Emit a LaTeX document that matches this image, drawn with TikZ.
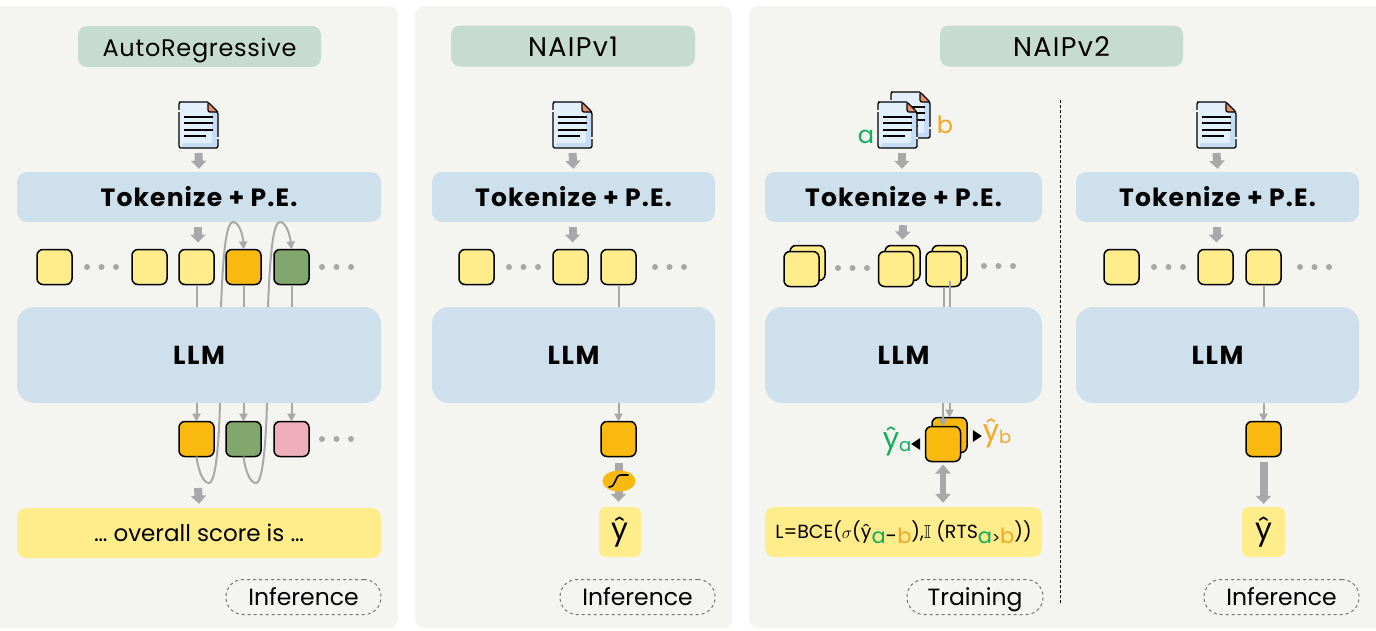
\documentclass[tikz,border=0pt]{standalone}
\usepackage{fontspec}
\usepackage{amssymb}
\usetikzlibrary{arrows.meta,shapes.geometric}
\setmainfont{Poppins}
\newfontfamily\spacedbold{Poppins}[LetterSpace=4.5,BoldFont={* Bold}]
\newfontfamily\llmfont{Poppins}[LetterSpace=6,BoldFont={* Bold}]
\newfontfamily\titlefont{Poppins}[LetterSpace=3]
\newfontfamily\naipfont{Poppins}[LetterSpace=5]
\definecolor{panelc}{HTML}{F4F5F0}
\definecolor{blueb}{HTML}{CDE0EC}
\definecolor{yellowb}{HTML}{FFEC8B}
\definecolor{orangeb}{HTML}{F9B90F}
\definecolor{greenb}{HTML}{82A76C}
\definecolor{pinkb}{HTML}{EFAEBC}
\definecolor{titleb}{HTML}{C6DCD3}
\definecolor{greent}{HTML}{12AD5A}
\definecolor{oranget}{HTML}{F5A623}
\definecolor{arrowg}{HTML}{A8A8A8}
\definecolor{docb}{HTML}{E3EFFB}
\definecolor{docs}{HTML}{C5DCF5}
\definecolor{docf}{HTML}{E8906A}
\newcommand{\fsz}[1]{\fontsize{#1}{#1}\selectfont}
\tikzset{
 panel/.style={fill=panelc,rounded corners=9,draw=none},
 title/.style={fill=titleb,rounded corners=9,inner sep=0,minimum height=41,font=\fsz{24}\titlefont,text height=19,text depth=0},
 naip/.style={title,font=\fsz{27}\naipfont,text height=20,text depth=0},
 tokz/.style={fill=blueb,rounded corners=10,inner sep=0,minimum height=50,font=\fsz{25}\spacedbold\bfseries},
 llmb/.style={fill=blueb,rounded corners=17,inner sep=0,minimum height=96,font=\fsz{26}\llmfont\bfseries},
 ybox/.style={fill=yellowb,rounded corners=9,inner sep=0,minimum height=50},
 tok/.style={draw=black,line width=1.5,rounded corners=6,inner sep=0,outer sep=0,minimum size=35},
 pill/.style={draw=black!55,dashed,line width=1.0,rounded corners=17,inner sep=0,minimum height=35,font=\fsz{23.5},text height=20,text depth=3},
 fat/.style={arrowg,line width=8,-{Triangle[width=15,length=8]}},
 dfat/.style={arrowg,line width=6.5,{Triangle[width=15,length=9]}-{Triangle[width=15,length=9]}},
 thin/.style={arrowg,line width=2},
 thina/.style={arrowg,line width=2,-{Triangle[width=8,length=8]}},
 dotg/.style={circle,fill=arrowg,inner sep=0,minimum size=6},
 blt/.style={fill=black,draw=none},
}
\newcommand{\docicon}[3]{%
 \begin{scope}[shift={(#2,#3)}]
  \fill[docb,rounded corners=2] (0,0)--(29,0)--(39,10)--(39,46)--(0,46)--cycle;
  \fill[docs,rounded corners=2] (33,10)--(39,10)--(39,46)--(3,46)--(3,41)--(33,41)--cycle;
  \fill[docf] (29,0)--(39,10)--(29,10)--cycle;
  \draw[black,line width=1.3,rounded corners=2] (29,0)--(2,0)--(0,0)--(0,46)--(39,46)--(39,10)--(29,0)--(29,10)--(39,10);
  \draw[black,line width=1.1] (5,15)--(34,15) (5,21)--(34,21) (5,28)--(34,28) (5,34)--(27,34);
  \draw[white,line width=1.5] (0,8)--(0,10) (39,35)--(39,37);
  \node[inner sep=0,outer sep=0,minimum width=39,minimum height=46] (#1) at (19.5,23) {};
 \end{scope}}
\newcommand{\threedots}[3]{\node[dotg] (#1a) at (#2,#3) {};\node[dotg] (#1b) at (#2+14.5,#3) {};\node[dotg] (#1c) at (#2+29,#3) {};}
\newcommand{\yhatbig}{ŷ}
\begin{document}
\begin{tikzpicture}[x=1pt,y=-1pt]
\useasboundingbox (0,0) rectangle (1376,630);
% panels
\fill[panel] (-10,6) rectangle (398,628);
\fill[panel] (415,6) rectangle (732,628);
\fill[panel] (749,6) rectangle (1386,628);
% ---------- Panel 1
\node[title,minimum width=243] (t1) at (199.5,46.5) {AutoRegressive};
\docicon{d1}{179}{102}
\node[tokz,minimum width=364] (k1) at (199,197) {Tokenize + P.E.};
\node[llmb,minimum width=364] (l1) at (199,355) {LLM};
\node[ybox,minimum width=364,font=\fsz{23}] (s1) at (199,533) {… overall score is …};
\node[pill,minimum width=155] (i1) at (303.5,597) {Inference};
\node[tok,fill=yellowb] (a1) at (54.5,267) {};
\node[tok,fill=yellowb] (a2) at (149.5,267) {};
\node[tok,fill=yellowb] (a3) at (196.5,267) {};
\node[tok,fill=orangeb] (a4) at (243.5,267) {};
\node[tok,fill=greenb] (a5) at (291.5,267) {};
\threedots{ad}{87}{267}
\threedots{ae}{322}{267}
\node[tok,fill=orangeb] (b3) at (196.5,439) {};
\node[tok,fill=greenb] (b4) at (243.5,439) {};
\node[tok,fill=pinkb] (b5) at (291.5,439) {};
\threedots{bd}{322}{439}
\coordinate (f1) at (198,488);
\draw[fat] ([yshift=-5]d1.south) -- ([yshift=3]k1.north);
\draw[fat] ([xshift=-1,yshift=-5]k1.south) -- ([xshift=1.5,yshift=7]a3.north);
\draw[fat] (f1) -- ([yshift=4]s1.north);
\foreach \n in {a3,a4,a5}{\draw[thin] (\n.south) -- (\n.south |- l1.north);}
\foreach \m in {b3,b4,b5}{\draw[thina] (\m.north |- l1.south) -- (\m.north);}
\coordinate (u1) at (221,307);
\coordinate (u2) at (268,307);
\coordinate (w1) at (220,403);
\coordinate (w2) at (267,403);
\draw[thina] (u1) .. controls (223,255) and (226,222) .. (233,222) .. controls (239,222) and (243,235) .. (a4.north);
\draw[thina] (u2) .. controls (270,255) and (273,222) .. (280,222) .. controls (286,222) and (290,235) .. (a5.north);
\draw[thin] (b3.south) .. controls (198,470) and (203,483) .. (209,483) .. controls (216,483) and (219,440) .. (w1);
\draw[thin] (b4.south) .. controls (245,470) and (250,483) .. (256,483) .. controls (263,483) and (266,440) .. (w2);
% ---------- Panel 2
\node[naip,minimum width=244] (t2) at (573,46) {NAIPv1};
\docicon{d2}{553}{102}
\node[tokz,minimum width=283] (k2) at (573.5,197) {Tokenize + P.E.};
\node[llmb,minimum width=283] (l2) at (573.5,355) {LLM};
\node[pill,minimum width=155] (i2) at (637.5,597) {Inference};
\node[tok,fill=yellowb] (c1) at (476.5,267) {};
\node[tok,fill=yellowb] (c2) at (570.5,267) {};
\node[tok,fill=yellowb] (c3) at (618.5,267) {};
\threedots{cd}{509}{267}
\threedots{ce}{655}{267}
\node[tok,fill=orangeb] (e3) at (618.5,439) {};
\node[fill=yellowb,rounded corners=7,inner sep=0,minimum width=42,minimum height=50,font=\fsz{30}] (y2) at (620,532) {\yhatbig};
\draw[fat] ([yshift=-5]d2.south) -- ([yshift=3]k2.north);
\draw[fat] ([xshift=-1,yshift=-5]k2.south) -- ([xshift=2,yshift=7]c2.north);
\draw[thin] (c3.south) -- (c3.south |- l2.north);
\draw[thina] (e3.north |- l2.south) -- (e3.north);
\draw[fat] ([yshift=-6]e3.south) -- ([xshift=-1.5,yshift=5]y2.north);
\node[ellipse,fill=orangeb,inner sep=0,outer sep=0,minimum width=33,minimum height=21] (g2) at (619,481) {};
\begin{scope}[shift={(619,481)}]
\draw[black,line width=1.6,line cap=round] (-10,6) .. controls (-2,6) and (-5,-6) .. (2,-6) -- (9,-6);
\end{scope}
% ---------- Panel 3a
\node[naip,minimum width=243] (t3) at (1061.5,46) {NAIPv2};
\docicon{d3b}{891}{92}
\docicon{d3a}{878}{102}
\node[font=\fsz{24},text=greent,inner sep=0] (la) at (866,137) {a};
\node[font=\fsz{24},text=oranget,inner sep=0] (lb) at (945,125) {b};
\node[tokz,minimum width=277] (k3) at (903.5,197) {Tokenize + P.E.};
\node[llmb,minimum width=277] (l3) at (903.5,355) {LLM};
\node[pill,minimum width=136] (i3) at (975,597) {Training};
\node[tok,fill=yellowb] (m1b) at (807.5,263) {};
\node[tok,fill=yellowb] (m1) at (801.5,269) {};
\node[tok,fill=yellowb] (m2b) at (902.5,263) {};
\node[tok,fill=yellowb] (m2) at (896,269) {};
\node[tok,fill=yellowb] (m3b) at (949.5,263) {};
\node[tok,fill=yellowb] (m3) at (943.5,269) {};
\threedots{md}{838}{268}
\threedots{me}{984}{266}
\draw[fat] ([xshift=4.5,yshift=-5]d3a.south) -- ([xshift=4.5,yshift=3]d3a.south |- k3.north);
\draw[fat] ([xshift=-0.5,yshift=-3]k3.south) -- ([yshift=6]m2b.north);
\coordinate (q1) at (943.5,287);
\coordinate (q2) at (949.5,281);
\draw[thin] (q2) -- (q2 |- l3.north);
\draw[thin] (q1) -- (q1 |- l3.north);
\node[tok,fill=orangeb] (n3b) at (949.5,435) {};
\draw[thina] (n3b.north |- l3.south) -- (n3b.north);
\node[tok,fill=orangeb] (n3) at (943,444) {};
\draw[thina] (n3.north |- l3.south) -- (n3.north);
\node[isosceles triangle,blt,minimum height=9,minimum width=12,inner sep=0,isosceles triangle stretches,shape border rotate=180,outer sep=0] (tl) at (917,444) {};
\node[isosceles triangle,blt,minimum height=9,minimum width=12,inner sep=0,isosceles triangle stretches,outer sep=0] (tr) at (976,436) {};
\node[font=\fsz{29},text=greent,inner sep=0] (ya) at (897,441) {ŷ\raisebox{-3pt}{\fsz{18}a}};
\node[font=\fsz{29},text=oranget,inner sep=0] (yb) at (997,433) {ŷ\raisebox{-3pt}{\fsz{18}b}};
\node[ybox,minimum width=277,font=\fsz{19}] (s3) at (903.5,532) {L=BCE($\sigma$(ŷ\raisebox{-5pt}{\fsz{21}\textcolor{greent}{a}\textcolor{black}{-}\textcolor{oranget}{b}}),$\mathbb{I}$ (RTS\raisebox{-5pt}{\fsz{21}\textcolor{greent}{a}\textcolor{black}{\fsz{15}>}\textcolor{oranget}{b}}))};
\draw[dfat] ([yshift=-3]n3.south) -- ([yshift=4]n3.south |- s3.north);
% divider
\coordinate (v1) at (1060,100);
\coordinate (v2) at (1060,604);
\draw[black,densely dashed,line width=0.8] (v1) -- (v2);
% ---------- Panel 3b
\docicon{d4}{1197}{102}
\node[tokz,minimum width=283] (k4) at (1217.5,197) {Tokenize + P.E.};
\node[llmb,minimum width=283] (l4) at (1217.5,355) {LLM};
\node[pill,minimum width=155] (i4) at (1281.5,597) {Inference};
\node[tok,fill=yellowb] (p1) at (1121.5,267) {};
\node[tok,fill=yellowb] (p2) at (1215.5,267) {};
\node[tok,fill=yellowb] (p3) at (1263.5,267) {};
\threedots{pd}{1154}{267}
\threedots{pe}{1300}{267}
\node[tok,fill=orangeb] (r3) at (1263.5,439) {};
\node[fill=yellowb,rounded corners=7,inner sep=0,minimum width=43,minimum height=50,font=\fsz{30}] (y4) at (1263.5,532) {\yhatbig};
\draw[fat] ([yshift=-5]d4.south) -- ([yshift=3]k4.north);
\draw[fat] ([xshift=-1,yshift=-5]k4.south) -- ([xshift=1,yshift=7]p2.north);
\draw[thin] (p3.south) -- (p3.south |- l4.north);
\draw[thina] (r3.north |- l4.south) -- (r3.north);
\draw[fat] ([yshift=-5]r3.south) -- ([yshift=3]y4.north);
\end{tikzpicture}
\end{document}
